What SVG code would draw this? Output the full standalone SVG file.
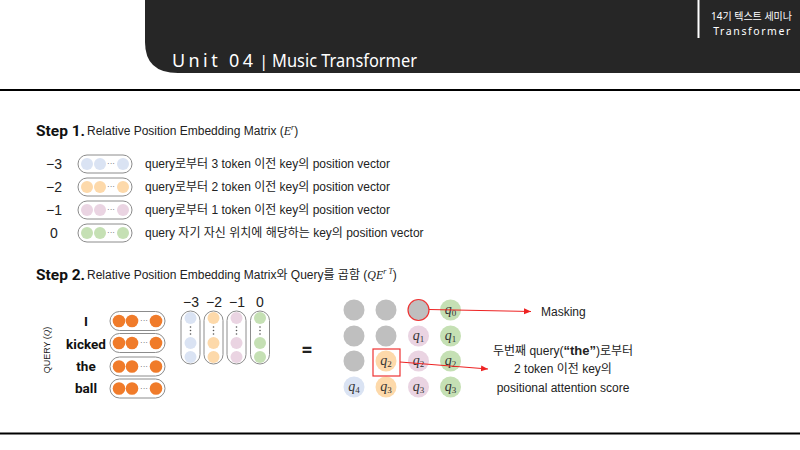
<svg xmlns="http://www.w3.org/2000/svg" width="800" height="450" viewBox="0 0 800 450">
<defs>
<style>
.t{font-family:"Liberation Sans","Noto Sans CJK KR",sans-serif;fill:#222;}
.hd{font-family:"Noto Sans","Noto Sans CJK KR",sans-serif;fill:#fff;}
.stp{font-family:"Roboto","Liberation Sans",sans-serif;font-weight:bold;fill:#111;font-size:15.5px;}
.q{font-family:"Liberation Serif","DejaVu Serif",serif;font-style:italic;font-size:14px;fill:#333;text-anchor:middle;}
.qs{font-size:9px;font-style:normal;}
.pill{fill:#fff;stroke:#8c8c8c;stroke-width:1;}
.b{fill:#dae3f3;}.o{fill:#fdd9aa;}.p{fill:#ead4e2;}.g{fill:#c5e0b4;}.or{fill:#f07b2a;}.gr{fill:#bfbfbf;}
.red{stroke:#ee3333;fill:none;stroke-width:1.2;}
</style>
<marker id="ah" markerWidth="8" markerHeight="8" refX="7" refY="4" orient="auto" markerUnits="userSpaceOnUse">
<path d="M0,1 L7,4 L0,7 z" fill="#ee2222"/>
</marker>
</defs>
<rect width="800" height="450" fill="#fff"/>
<!-- header -->
<g id="header">
<path d="M145,0 H800 V73 H178 Q145,73 145,42 Z" fill="#262626"/>
<line x1="698.5" y1="0" x2="698.5" y2="38" stroke="#fff" stroke-width="2"/>
<text class="hd" x="792" y="20" font-size="10" text-anchor="end">14기 텍스트 세미나</text>
<text class="hd" x="792" y="35" font-size="10.5" text-anchor="end" letter-spacing="1.6">Transformer</text>
<text class="hd" x="172" y="67" font-size="18" letter-spacing="3.4">Unit 04</text>
<text class="hd" x="259" y="67" font-size="17">|</text>
<text class="hd" x="272" y="67" font-size="18" textLength="145" lengthAdjust="spacingAndGlyphs">Music Transformer</text>
</g>
<line x1="0" y1="90" x2="800" y2="90" stroke="#000" stroke-width="2"/>
<line x1="0" y1="433.5" x2="800" y2="433.5" stroke="#000" stroke-width="2"/>
<!-- Step 1 -->
<g id="step1-title">
<text class="stp" x="36" y="136">Step 1.</text>
<text class="t" x="87" y="135" font-size="12">Relative Position Embedding Matrix (<tspan font-family="Liberation Serif" font-style="italic">E</tspan><tspan font-family="Liberation Serif" font-style="italic" font-size="8" dy="-5">r</tspan><tspan dy="5">)</tspan></text>
</g>
<g id="row-m3">
<text class="t" x="54" y="169" font-size="14" text-anchor="middle">−3</text>
<rect class="pill" x="78" y="155" width="54" height="18" rx="9"/>
<circle class="b" cx="87" cy="164" r="6"/><circle class="b" cx="100" cy="164" r="6"/>
<text x="111" y="166" font-size="8" fill="#555" font-family="Liberation Sans" text-anchor="middle">···</text>
<circle class="b" cx="123" cy="164" r="6"/>
<text class="t" x="145" y="168" font-size="12">query로부터 3 token 이전 key의 position vector</text>
</g>
<g id="row-m2">
<text class="t" x="54" y="192" font-size="14" text-anchor="middle">−2</text>
<rect class="pill" x="78" y="178" width="54" height="18" rx="9"/>
<circle class="o" cx="87" cy="187" r="6"/><circle class="o" cx="100" cy="187" r="6"/>
<text x="111" y="189" font-size="8" fill="#555" font-family="Liberation Sans" text-anchor="middle">···</text>
<circle class="o" cx="123" cy="187" r="6"/>
<text class="t" x="145" y="191" font-size="12">query로부터 2 token 이전 key의 position vector</text>
</g>
<g id="row-m1">
<text class="t" x="54" y="215" font-size="14" text-anchor="middle">−1</text>
<rect class="pill" x="78" y="201" width="54" height="18" rx="9"/>
<circle class="p" cx="87" cy="210" r="6"/><circle class="p" cx="100" cy="210" r="6"/>
<text x="111" y="212" font-size="8" fill="#555" font-family="Liberation Sans" text-anchor="middle">···</text>
<circle class="p" cx="123" cy="210" r="6"/>
<text class="t" x="145" y="214" font-size="12">query로부터 1 token 이전 key의 position vector</text>
</g>
<g id="row-0">
<text class="t" x="54" y="238" font-size="14" text-anchor="middle">0</text>
<rect class="pill" x="78" y="224" width="54" height="18" rx="9"/>
<circle class="g" cx="87" cy="233" r="6"/><circle class="g" cx="100" cy="233" r="6"/>
<text x="111" y="235" font-size="8" fill="#555" font-family="Liberation Sans" text-anchor="middle">···</text>
<circle class="g" cx="123" cy="233" r="6"/>
<text class="t" x="145" y="237" font-size="12">query 자기 자신 위치에 해당하는 key의 position vector</text>
</g>
<!-- Step 2 -->
<g id="step2-title">
<text class="stp" x="36" y="280">Step 2.</text>
<text class="t" x="87" y="279" font-size="12">Relative Position Embedding Matrix와 Query를 곱함 (<tspan font-family="Liberation Serif" font-style="italic">QE</tspan><tspan font-family="Liberation Serif" font-style="italic" font-size="8" dy="-5">r T</tspan><tspan dy="5">)</tspan></text>
</g>
<g id="query">
<text class="t" transform="translate(50,350) rotate(-90)" font-size="9" text-anchor="middle" fill="#333">QUERY (<tspan font-family="Liberation Serif" font-style="italic">Q</tspan>)</text>
<g font-family="Roboto,'Liberation Sans',sans-serif" font-weight="bold" font-size="13.5" fill="#111" text-anchor="middle">
<text x="86" y="326">I</text>
<text x="86" y="349">kicked</text>
<text x="86" y="371">the</text>
<text x="86" y="393">ball</text>
</g>
<g id="q-pills">
<rect class="pill" x="110" y="311.5" width="55" height="19" rx="9.5"/>
<circle class="or" cx="119" cy="321" r="6.3"/><circle class="or" cx="132" cy="321" r="6.3"/>
<text x="144" y="323" font-size="8" fill="#555" font-family="Liberation Sans" text-anchor="middle">···</text>
<circle class="or" cx="156" cy="321" r="6.3"/>
<rect class="pill" x="110" y="333.5" width="55" height="19" rx="9.5"/>
<circle class="or" cx="119" cy="343" r="6.3"/><circle class="or" cx="132" cy="343" r="6.3"/>
<text x="144" y="345" font-size="8" fill="#555" font-family="Liberation Sans" text-anchor="middle">···</text>
<circle class="or" cx="156" cy="343" r="6.3"/>
<rect class="pill" x="110" y="357" width="55" height="19" rx="9.5"/>
<circle class="or" cx="119" cy="366.5" r="6.3"/><circle class="or" cx="132" cy="366.5" r="6.3"/>
<text x="144" y="368.5" font-size="8" fill="#555" font-family="Liberation Sans" text-anchor="middle">···</text>
<circle class="or" cx="156" cy="366.5" r="6.3"/>
<rect class="pill" x="110" y="379" width="55" height="19" rx="9.5"/>
<circle class="or" cx="119" cy="388.5" r="6.3"/><circle class="or" cx="132" cy="388.5" r="6.3"/>
<text x="144" y="390.5" font-size="8" fill="#555" font-family="Liberation Sans" text-anchor="middle">···</text>
<circle class="or" cx="156" cy="388.5" r="6.3"/>
</g>
</g>
<g id="emb-matrix">
<g class="t" font-size="14" text-anchor="middle">
<text x="191" y="307">−3</text><text x="214" y="307">−2</text><text x="237" y="307">−1</text><text x="260" y="307">0</text>
</g>
<rect class="pill" x="181" y="311" width="19" height="53" rx="9.5"/>
<circle class="b" cx="190.5" cy="318" r="6"/><circle class="b" cx="190.5" cy="343" r="6"/><circle class="b" cx="190.5" cy="357" r="6"/>
<rect class="pill" x="204" y="311" width="19" height="53" rx="9.5"/>
<circle class="o" cx="213.5" cy="318" r="6"/><circle class="o" cx="213.5" cy="343" r="6"/><circle class="o" cx="213.5" cy="357" r="6"/>
<rect class="pill" x="227" y="311" width="19" height="53" rx="9.5"/>
<circle class="p" cx="236.5" cy="318" r="6"/><circle class="p" cx="236.5" cy="343" r="6"/><circle class="p" cx="236.5" cy="357" r="6"/>
<rect class="pill" x="250.5" y="311" width="19" height="53" rx="9.5"/>
<circle class="g" cx="260" cy="318" r="6"/><circle class="g" cx="260" cy="343" r="6"/><circle class="g" cx="260" cy="357" r="6"/>
<g fill="#555">
<circle cx="190.5" cy="327" r="0.8"/><circle cx="190.5" cy="330.5" r="0.8"/><circle cx="190.5" cy="334" r="0.8"/>
<circle cx="213.5" cy="327" r="0.8"/><circle cx="213.5" cy="330.5" r="0.8"/><circle cx="213.5" cy="334" r="0.8"/>
<circle cx="236.5" cy="327" r="0.8"/><circle cx="236.5" cy="330.5" r="0.8"/><circle cx="236.5" cy="334" r="0.8"/>
<circle cx="260" cy="327" r="0.8"/><circle cx="260" cy="330.5" r="0.8"/><circle cx="260" cy="334" r="0.8"/>
</g>
</g>
<text id="equals" x="307" y="356" font-family="Roboto,'Liberation Sans',sans-serif" font-weight="bold" font-size="20" fill="#222" text-anchor="middle">=</text>
<g id="result">
<circle class="gr" cx="354" cy="310" r="10.5"/><circle class="gr" cx="386" cy="310" r="10.5"/>
<circle class="gr" cx="418.5" cy="310" r="10.5" stroke="#ee3333" stroke-width="1.2"/>
<circle class="g" cx="450.5" cy="310" r="10.5"/>
<circle class="gr" cx="354" cy="336" r="10.5"/><circle class="gr" cx="386" cy="336" r="10.5"/>
<circle class="p" cx="418.5" cy="336" r="10.5"/><circle class="g" cx="450.5" cy="336" r="10.5"/>
<circle class="gr" cx="354" cy="361" r="10.5"/><circle class="o" cx="386" cy="361" r="10.5"/>
<circle class="p" cx="418.5" cy="361" r="10.5"/><circle class="g" cx="450.5" cy="361" r="10.5"/>
<circle class="b" cx="354" cy="387" r="10.5"/><circle class="o" cx="386" cy="387" r="10.5"/>
<circle class="p" cx="418.5" cy="387" r="10.5"/><circle class="g" cx="450.5" cy="387" r="10.5"/>
<text class="q" x="450.5" y="313.5">q<tspan class="qs" dy="2">0</tspan></text>
<text class="q" x="418.5" y="339.5">q<tspan class="qs" dy="2">1</tspan></text>
<text class="q" x="450.5" y="339.5">q<tspan class="qs" dy="2">1</tspan></text>
<text class="q" x="386" y="364.5">q<tspan class="qs" dy="2">2</tspan></text>
<text class="q" x="418.5" y="364.5">q<tspan class="qs" dy="2">2</tspan></text>
<text class="q" x="450.5" y="364.5">q<tspan class="qs" dy="2">2</tspan></text>
<text class="q" x="354" y="390.5">q<tspan class="qs" dy="2">4</tspan></text>
<text class="q" x="386" y="390.5">q<tspan class="qs" dy="2">3</tspan></text>
<text class="q" x="418.5" y="390.5">q<tspan class="qs" dy="2">3</tspan></text>
<text class="q" x="450.5" y="390.5">q<tspan class="qs" dy="2">3</tspan></text>
<rect class="red" x="373" y="349" width="27" height="27"/>
</g>
<g id="connectors">
<line x1="429" y1="309.5" x2="531" y2="311.5" stroke="#ee2222" stroke-width="1" marker-end="url(#ah)"/>
<line x1="400" y1="362" x2="488" y2="369" stroke="#ee2222" stroke-width="1" marker-end="url(#ah)"/>
</g>
<g id="labels">
<text class="t" x="541" y="316" font-size="12">Masking</text>
<text class="t" x="563" y="355" font-size="12" text-anchor="middle">두번째 query(<tspan font-weight="bold" font-size="13">“the”</tspan>)로부터</text>
<text class="t" x="563" y="373" font-size="12" text-anchor="middle">2 token 이전 key의</text>
<text class="t" x="563" y="392" font-size="12" text-anchor="middle">positional attention score</text>
</g>
</svg>
